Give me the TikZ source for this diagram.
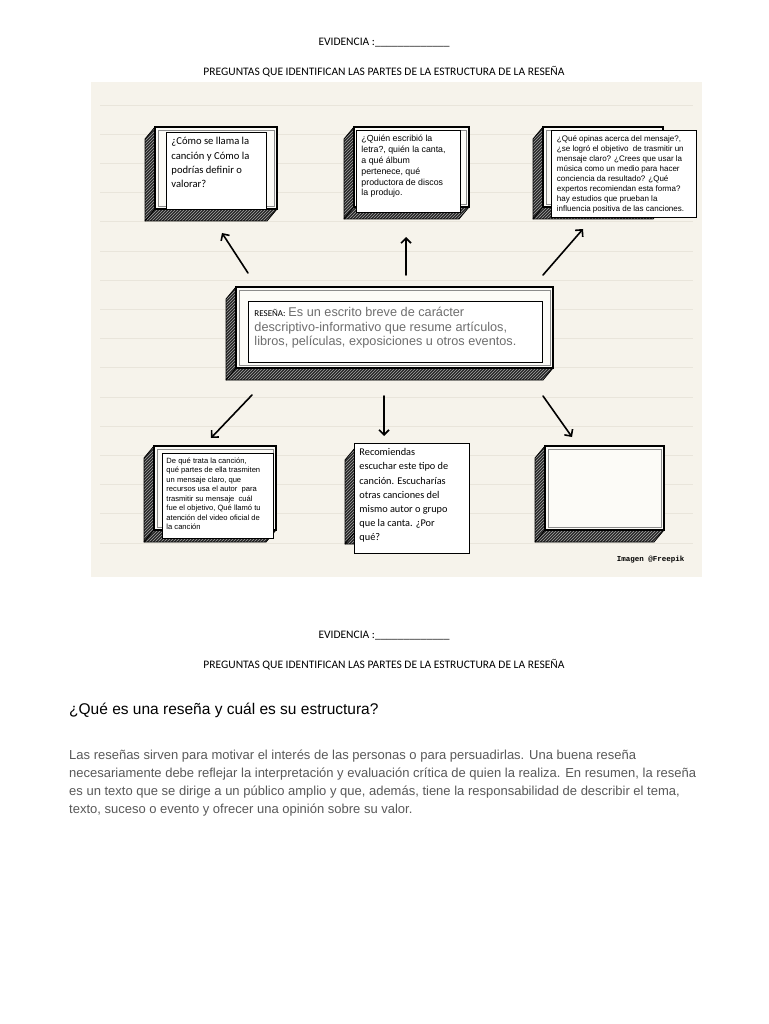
\documentclass[tikz,border=0pt]{standalone}
\usepackage{fontspec}
\setmainfont{Carlito}
\newfontfamily\arialf{Liberation Sans}
\newfontfamily\monof{Liberation Mono}
\usetikzlibrary{arrows.meta,patterns}
\definecolor{papel}{RGB}{246,243,235}
\definecolor{raya}{RGB}{233,229,219}
\definecolor{cara}{RGB}{252,251,247}
\definecolor{grisTexto}{RGB}{89,89,89}
\definecolor{grisResena}{RGB}{110,110,110}

\tikzset{
  cara/.style={fill=cara, draw=black, line width=1.3pt},
  lado/.style={preaction={fill=black!85}, pattern=north east lines, pattern color=white!65!black, draw=black, line width=0.8pt, line join=round},
  pregunta/.style={draw=black, fill=white, line width=0.9pt, anchor=north west, inner sep=5pt, align=left},
  flecha/.style={-{Straight Barb[length=5pt,width=10pt]}, line width=1.6pt, line cap=round},
  titulo/.style={anchor=base, font=\fontsize{11.5}{13}\selectfont},
}

% 3D box: x1 y1 x2 y2 of the front face
\newcommand{\cajon}[4]{%
  \draw[lado] (#1,#2) -- ++(-10,12) -- (#1-10,#4+12) -- (#1,#4) -- cycle;
  \draw[lado] (#1,#4) -- (#1-10,#4+12) -- (#3-10,#4+12) -- (#3,#4) -- cycle;
  \draw[cara] (#1,#2) rectangle (#3,#4);
  \draw[black!45, line width=0.5pt] (#1+3,#2+3) rectangle (#3-3,#4-3);
}

\begin{document}
\begin{tikzpicture}[x=1pt, y=-1pt]
  \useasboundingbox (0,0) rectangle (768,1024);
  \fill[white] (0,0) rectangle (768,1024);

  % Headers
  \node[titulo] (evid1) at (384,46) {EVIDENCIA :\_\_\_\_\_\_\_\_\_\_\_\_\_};
  \node[titulo] (preg1t) at (384,76) {PREGUNTAS QUE IDENTIFICAN LAS PARTES DE LA ESTRUCTURA DE LA RESEÑA};

  % Paper background
  \fill[papel] (91,82) rectangle (702,577);
  \foreach \k in {0,...,15}
    \draw[raya, line width=0.8pt] (100,105+29.2*\k) -- (693,105+29.2*\k);

  % Boxes
  \cajon{155}{127}{277}{209}
  \cajon{354}{127}{469}{207}
  \cajon{543}{127}{663}{207}
  \cajon{236}{287}{553}{368}
  \cajon{154}{446}{276}{530}
  \cajon{355}{448}{469}{532}
  \cajon{545}{446}{664}{530}

  % Questions
  \node[pregunta, font=\fontsize{10.6}{14.3}\selectfont] (como) at (166,132)
    {\parbox[t][67pt][t]{90pt}{¿Cómo se llama la\\ canción y Cómo la\\ podrías definir o\\ valorar?}};
  \node[pregunta, font=\arialf\fontsize{8.8}{10.8}\selectfont] (quien) at (356,130)
    {\parbox[t][72pt][t]{94pt}{¿Quién escribió la\\ letra?, quién la canta,\\ a qué álbum\\ pertenece, qué\\ productora de discos\\ la produjo.}};
  \node[pregunta, font=\arialf\fontsize{8}{10}\selectfont, inner sep=5.5pt] (opinas) at (551,130)
    {\parbox[t][76pt][t]{134pt}{¿Qué opinas acerca del mensaje?,\\ ¿se logró el objetivo\ \ de trasmitir un\\ mensaje claro? ¿Crees que usar la\\ música como un medio para hacer\\ conciencia da resultado? ¿Qué\\ expertos recomiendan esta forma?\\ hay estudios que prueban la\\ influencia positiva de las canciones.}};

  % Center
  \node[pregunta, inner sep=6pt] (resena) at (248,301)
    {\parbox[t][49pt][t]{282pt}{\fontsize{12.7}{14.3}\selectfont{\fontsize{9}{10}\selectfont RESEÑA:}
     \arialf\color{grisResena}Es un escrito breve de carácter\\ descriptivo-informativo que resume artículos,\\ libros, películas, exposiciones u otros eventos.}};

  \node[pregunta, font=\arialf\fontsize{7.6}{9.5}\selectfont, inner sep=4pt] (trata) at (162,453)
    {\parbox[t][77pt][t]{103pt}{De qué trata la canción,\\ qué partes de ella trasmiten\\ un mensaje claro, que\\ recursos usa el autor\ \ para\\ trasmitir su mensaje\ \ cuál\\ fue el objetivo, Qué llamó tu\\ atención del video oficial de\\ la canción}};
  \node[pregunta, font=\fontsize{10.3}{14.2}\selectfont] (recom) at (354,443)
    {\parbox[t][100pt][t]{105pt}{Recomiendas\\ escuchar este tipo de\\ canción. Escucharías\\ otras canciones del\\ mismo autor o grupo\\ que la canta. ¿Por\\ qué?}};

  \node[anchor=base east, font=\monof\bfseries\fontsize{7.5}{9}\selectfont] (freepik) at (688,561) {Imagen @Freepik};

  % Arrows
  \coordinate (fA1) at (248,273); \coordinate (fA2) at (222,233);
  \coordinate (fB1) at (406,275); \coordinate (fB2) at (406,237);
  \coordinate (fC1) at (543,275); \coordinate (fC2) at (583,229);
  \coordinate (fD1) at (252,395); \coordinate (fD2) at (211,438);
  \coordinate (fE1) at (384,396); \coordinate (fE2) at (384,436);
  \coordinate (fF1) at (543,396); \coordinate (fF2) at (572,437);
  \draw[flecha] (fA1) -- (fA2);
  \draw[flecha] (fB1) -- (fB2);
  \draw[flecha] (fC1) -- (fC2);
  \draw[flecha] (fD1) -- (fD2);
  \draw[flecha] (fE1) -- (fE2);
  \draw[flecha] (fF1) -- (fF2);

  % Second page part
  \node[titulo] (evid2) at (384,638) {EVIDENCIA :\_\_\_\_\_\_\_\_\_\_\_\_\_};
  \node[titulo] (preg2t) at (384,668) {PREGUNTAS QUE IDENTIFICAN LAS PARTES DE LA ESTRUCTURA DE LA RESEÑA};
  \node[anchor=base west, inner sep=0pt, font=\arialf\fontsize{15.5}{18}\selectfont] (quees) at (69,714) {¿Qué es una reseña y cuál es su estructura?};
  \node[anchor=north west, align=left, inner sep=0pt, text=grisTexto, font=\arialf\fontsize{13}{18}\selectfont] (parrafo) at (69,750)
    {Las reseñas sirven para motivar el interés de las personas o para persuadirlas. Una buena reseña\\
     necesariamente debe reflejar la interpretación y evaluación crítica de quien la realiza. En resumen, la reseña\\
     es un texto que se dirige a un público amplio y que, además, tiene la responsabilidad de describir el tema,\\
     texto, suceso o evento y ofrecer una opinión sobre su valor.};
\end{tikzpicture}
\end{document}
